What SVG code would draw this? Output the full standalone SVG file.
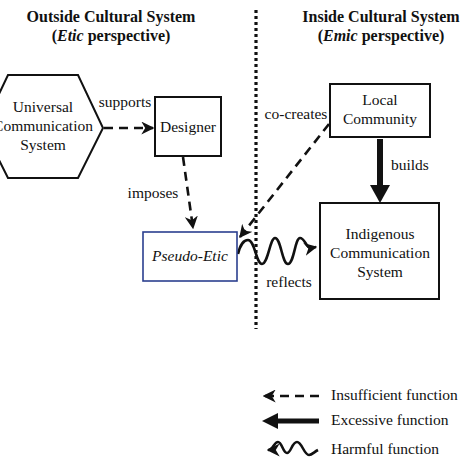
<svg xmlns="http://www.w3.org/2000/svg" width="474" height="474" viewBox="0 0 474 474" font-family="'Liberation Serif', 'DejaVu Serif', 'Times New Roman', serif">
<style>
text{font-family:'Liberation Serif','DejaVu Serif','Times New Roman',serif;font-size:15.5px;fill:#111}
.t{font-weight:bold;font-size:16px}
.c{text-anchor:middle}
.box{fill:#fff;stroke:#111;stroke-width:2}
.dash{fill:none;stroke:#111;stroke-width:2.6;stroke-dasharray:9 6}
.wave{fill:none;stroke:#111;stroke-width:2.6}
</style>
<defs>
<marker id="ah" viewBox="0 0 10 10" refX="9" refY="5" markerWidth="5" markerHeight="5" orient="auto" markerUnits="strokeWidth">
<path d="M0,0 L10,5 L0,10 L3,5 z" fill="#111"/>
</marker>
</defs>
<rect width="474" height="474" fill="#fff"/>
<g id="titles">
<text class="t c" x="111" y="22">Outside Cultural System</text>
<text class="t c" x="111" y="41">(<tspan font-style="italic">Etic</tspan> perspective)</text>
<text class="t c" x="381" y="22">Inside Cultural System</text>
<text class="t c" x="381" y="41">(<tspan font-style="italic">Emic</tspan> perspective)</text>
</g>
<line x1="256" y1="10" x2="256" y2="329" stroke="#111" stroke-width="3.2" stroke-dasharray="3 3"/>
<g id="connectors">
<line class="dash" x1="104" y1="128" x2="153" y2="128" marker-end="url(#ah)"/>
<line class="dash" x1="183" y1="157" x2="193" y2="228" marker-end="url(#ah)"/>
<line class="dash" x1="329" y1="124" x2="240" y2="237" marker-end="url(#ah)"/>
<line x1="380" y1="139" x2="380" y2="187" stroke="#111" stroke-width="6"/>
<path d="M370,185 L390,185 L380,203 z" fill="#111"/>
<path class="wave" d="M238,254 C240,245 244,240 248,240 C255,240 256,264 262,264 C268,264 270,238 275,238 C281,238 282,264 288,264 C294,264 295,238 300,238 C305,238 306,248 311,248 L316,247" marker-end="url(#ah)"/>
<text class="c" x="125" y="107">supports</text>
<text class="c" x="153" y="198">imposes</text>
<text class="c" x="296" y="119">co-creates</text>
<text x="391" y="170">builds</text>
<text class="c" x="289" y="287">reflects</text>
</g>
<g id="universal">
<polygon class="box" points="-17,128 8,75 78,75 103,128 78,178 8,178"/>
<text class="c" x="43" y="112">Universal</text>
<text class="c" x="43" y="131">Communication</text>
<text class="c" x="43" y="150">System</text>
</g>
<g id="designer">
<rect class="box" x="155" y="97" width="66" height="59"/>
<text class="c" x="188" y="132">Designer</text>
</g>
<g id="pseudo">
<rect x="143" y="232" width="94" height="49" fill="#fff" stroke="#2b3f8f" stroke-width="1.6"/>
<text class="c" x="190" y="261" font-style="italic">Pseudo-Etic</text>
</g>
<g id="local">
<rect class="box" x="330" y="84" width="100" height="53"/>
<text class="c" x="380" y="105">Local</text>
<text class="c" x="380" y="124">Community</text>
</g>
<g id="indigenous">
<rect class="box" x="320" y="203" width="119" height="96"/>
<text class="c" x="380" y="239">Indigenous</text>
<text class="c" x="380" y="258">Communication</text>
<text class="c" x="380" y="277">System</text>
</g>
<g id="legend">
<line class="dash" x1="319" y1="396" x2="264" y2="396" stroke-dasharray="11 8" marker-end="url(#ah)"/>
<line x1="319" y1="421" x2="275" y2="421" stroke="#111" stroke-width="5"/>
<path d="M262,421 L278,413 L278,429 z" fill="#111"/>
<path class="wave" d="M318,450 C314,452 312,455 309,455 C304,455 302,442 297,442 C292,442 291,453 287,453 C283,453 282,442 278,442 C274,442 273,450 268,450" marker-end="url(#ah)"/>
<text x="331" y="400">Insufficient function</text>
<text x="331" y="425">Excessive function</text>
<text x="331" y="454">Harmful function</text>
</g>
</svg>
